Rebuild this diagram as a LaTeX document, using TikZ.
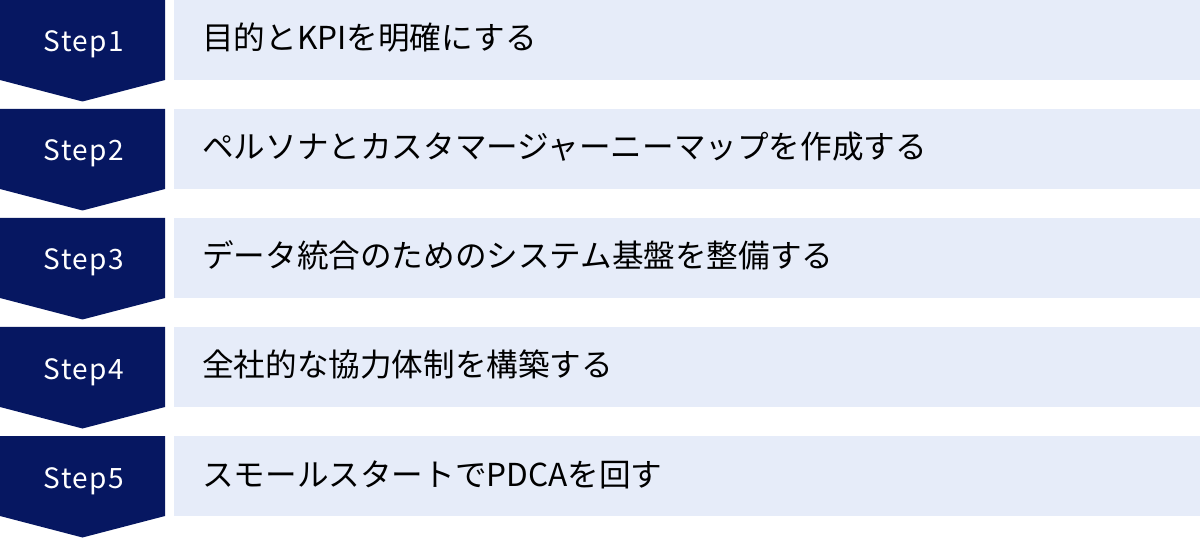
\documentclass[tikz,border=0pt]{standalone}
\usepackage{fontspec}
\setmainfont{Noto Sans CJK JP}
\definecolor{stepnavy}{HTML}{061761}
\definecolor{rowblue}{HTML}{E6ECF9}
\begin{document}
\begin{tikzpicture}[x=0.75pt,y=-0.75pt,
  steplabel/.style={anchor=base, inner sep=0pt, text=white,
    font=\fontsize{21}{25}\selectfont\addfontfeatures{LetterSpace=5}},
  rowtext/.style={anchor=base west, inner sep=0pt, text=black,
    font=\fontsize{23.7}{28}\selectfont}]
  \useasboundingbox (0,0) rectangle (1200,538);
  \foreach \i/\txt in {1/目的とKPIを明確にする,
      2/ペルソナとカスタマージャーニーマップを作成する,
      3/データ統合のためのシステム基盤を整備する,
      4/全社的な協力体制を構築する,
      5/スモールスタートでPDCAを回す}{
    \pgfmathsetmacro\rowtop{(\i-1)*109}
    \fill[stepnavy] (0,\rowtop) -- (165,\rowtop) -- (165,\rowtop+80)
      -- (82.5,\rowtop+101.5) -- (0,\rowtop+80) -- cycle;
    \fill[rowblue] (174,\rowtop) rectangle (1200,\rowtop+80);
    \node[steplabel] (step\i) at (84,\rowtop+52) {Step\i};
    \node[rowtext] (task\i) at (202,\rowtop+50) {\txt};
  }
\end{tikzpicture}
\end{document}
